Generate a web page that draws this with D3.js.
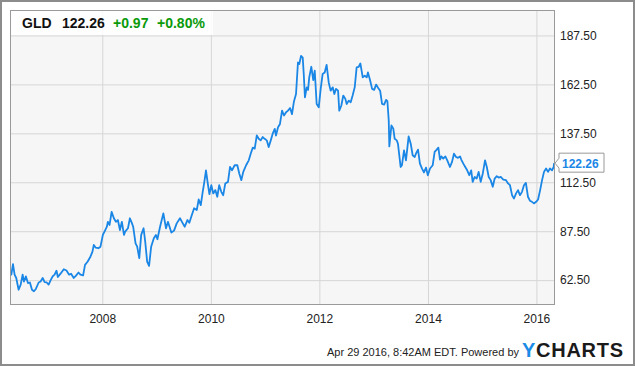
<!DOCTYPE html>
<html>
<head>
<meta charset="utf-8">
<script src="https://cdn.jsdelivr.net/npm/d3@7"></script>
<style>
  body { margin: 0; background: #fff; }
  svg { display: block; font-family: Arial, "Liberation Sans", sans-serif; }
  .grid line { stroke: #d6d6d6; }
  .grid path { display: none; }
  .axis path { display: none; }
  .axis text { fill: #222; font-size: 12px; }
</style>
</head>
<body>
<div id="chart"></div>
<script>
// ---- data ----
const ticker = "GLD";
const lastPrice = 122.26;
const change = "+0.97";
const changePct = "+0.80%";
const stamp = "Apr 29 2016, 8:42AM EDT. Powered by";

const yTicks = [62.5, 87.5, 112.5, 137.5, 162.5, 187.5];
const xTickYears = [2008, 2010, 2012, 2014, 2016];

const dates = [
  "2006-04-21","2006-04-29","2006-05-10","2006-05-21","2006-06-01","2006-06-17","2006-07-01","2006-07-14","2006-07-23",
  "2006-08-05","2006-08-19","2006-09-01","2006-09-15","2006-09-28","2006-10-11","2006-10-30","2006-11-12","2006-11-26",
  "2006-12-09","2006-12-23",
  "2007-01-05","2007-01-18","2007-02-01","2007-02-14","2007-02-27","2007-03-08","2007-03-26","2007-04-17","2007-05-05",
  "2007-05-23","2007-06-05","2007-06-23","2007-07-07","2007-07-25","2007-08-07","2007-08-25","2007-09-07","2007-09-25",
  "2007-10-14","2007-10-27","2007-11-05","2007-11-18","2007-12-06","2007-12-20",
  "2008-01-05","2008-01-21","2008-02-01","2008-02-08","2008-02-19","2008-03-04","2008-03-19","2008-04-02","2008-04-15",
  "2008-04-29","2008-05-12","2008-05-26","2008-06-03","2008-06-22","2008-07-05","2008-07-19","2008-07-27","2008-08-12",
  "2008-08-23","2008-09-06","2008-09-19","2008-10-05","2008-10-16","2008-10-29","2008-11-11","2008-11-25","2008-12-13",
  "2008-12-27",
  "2009-01-06","2009-01-24","2009-02-15","2009-03-05","2009-03-18","2009-04-10","2009-04-28","2009-05-16","2009-06-07",
  "2009-06-26","2009-07-09","2009-07-27","2009-08-09","2009-08-22","2009-09-10","2009-09-28","2009-10-11","2009-10-25",
  "2009-11-07","2009-11-18","2009-11-29","2009-12-11","2009-12-22",
  "2010-01-04","2010-01-17","2010-01-31","2010-02-13","2010-02-26","2010-03-12","2010-03-25","2010-04-08","2010-04-26",
  "2010-05-10","2010-05-23","2010-06-10","2010-06-28","2010-07-11","2010-07-25","2010-08-07","2010-08-26","2010-09-13",
  "2010-09-26","2010-10-10","2010-10-23","2010-11-06","2010-11-19","2010-12-02","2010-12-16","2010-12-29",
  "2011-01-12","2011-01-25","2011-02-08","2011-02-21","2011-03-07","2011-03-15","2011-03-29","2011-04-11","2011-04-25",
  "2011-05-08","2011-05-22","2011-06-04","2011-06-18","2011-07-01","2011-07-14","2011-07-28","2011-08-10","2011-08-19",
  "2011-08-31","2011-09-11","2011-09-18","2011-09-26","2011-10-08","2011-10-17","2011-10-25","2011-11-08","2011-11-21",
  "2011-12-01","2011-12-14","2011-12-28",
  "2012-01-10","2012-01-23","2012-02-06","2012-02-19","2012-03-04","2012-03-17","2012-03-31","2012-04-11","2012-04-22",
  "2012-05-06","2012-05-14","2012-05-28","2012-06-10","2012-06-24","2012-07-03","2012-07-17","2012-07-30","2012-08-12",
  "2012-08-26","2012-09-08","2012-09-22","2012-10-03","2012-10-19","2012-11-01","2012-11-15","2012-11-23","2012-12-07",
  "2012-12-21",
  "2013-01-04","2013-01-17","2013-01-31","2013-02-13","2013-02-26","2013-03-12","2013-03-25","2013-04-03","2013-04-12",
  "2013-04-16","2013-04-30","2013-05-13","2013-05-22","2013-06-05","2013-06-13","2013-07-01","2013-07-10","2013-07-24",
  "2013-08-06","2013-08-24","2013-09-07","2013-09-20","2013-10-04","2013-10-12","2013-10-26","2013-11-08","2013-11-22",
  "2013-12-05","2013-12-19","2013-12-31",
  "2014-01-15","2014-02-02","2014-02-15","2014-03-01","2014-03-12","2014-03-23","2014-04-01","2014-04-14","2014-04-28",
  "2014-05-11","2014-05-29","2014-06-12","2014-06-25","2014-07-09","2014-07-22","2014-08-05","2014-08-13","2014-08-27",
  "2014-09-09","2014-09-22","2014-10-06","2014-10-19","2014-10-29","2014-11-11","2014-11-25","2014-12-08","2014-12-22",
  "2015-01-05","2015-01-20","2015-02-01","2015-02-14","2015-02-27","2015-03-13","2015-03-26","2015-04-09","2015-04-22",
  "2015-05-06","2015-05-23","2015-06-10","2015-06-24","2015-07-07","2015-07-21","2015-08-03","2015-08-17","2015-08-30",
  "2015-09-12","2015-09-26","2015-10-09","2015-10-22","2015-11-05","2015-11-18","2015-12-02","2015-12-15","2015-12-30",
  "2016-01-12","2016-01-26","2016-02-08","2016-02-21","2016-03-06","2016-03-19","2016-04-01","2016-04-15","2016-04-26",
  "2016-04-29"
];

const prices = [
  66.0, 65.3, 70.7, 65.3, 63.6, 57.6, 60.2, 65.3, 61.8,
  64.4, 61.0, 61.3, 57.6, 56.8, 58.0, 61.3, 61.8, 63.6,
  61.5, 61.3,
  60.2, 62.4, 64.4, 65.3, 67.3, 64.1, 65.8, 68.1, 67.4,
  65.3, 65.8, 63.6, 64.7, 66.4, 65.3, 64.9, 70.3, 72.0,
  74.6, 77.1, 80.5, 79.1, 78.8, 79.6,
  85.6, 88.1, 89.8, 92.3, 90.7, 97.4, 94.1, 92.3, 93.2,
  88.1, 92.3, 85.6, 87.3, 89.0, 94.1, 91.5, 89.8, 81.3,
  79.6, 73.7, 85.6, 89.0, 82.2, 72.0, 69.8, 79.6, 83.9,
  85.6,
  83.4, 89.8, 96.6, 89.0, 92.3, 86.8, 87.8, 91.5, 94.1,
  91.5, 89.8, 93.2, 91.8, 94.9, 99.2, 98.3, 103.7, 100.8,
  107.6, 112.7, 118.6, 111.9, 106.4,
  111.0, 106.8, 108.5, 105.1, 111.0, 107.6, 105.9, 111.9, 112.7,
  120.3, 118.6, 121.2, 121.2, 117.0, 113.6, 117.8, 121.2, 123.7,
  127.1, 130.2, 129.7, 136.4, 134.7, 133.9, 135.6, 134.7,
  133.9, 130.5, 133.9, 137.3, 139.8, 136.4, 140.6, 142.3, 149.1,
  146.6, 148.3, 149.1, 150.4, 147.3, 153.8, 157.6, 173.7, 172.9,
  177.1, 176.2, 167.8, 155.9, 161.0, 159.7, 166.1, 171.5, 164.7,
  169.5, 152.5, 150.8,
  160.2, 167.8, 168.6, 172.5, 163.5, 159.3, 161.0, 157.6, 160.2,
  159.3, 149.1, 151.7, 156.8, 155.1, 152.5, 154.2, 153.4, 156.8,
  161.0, 171.2, 171.5, 173.2, 166.1, 166.9, 166.1, 168.6, 164.7,
  160.2,
  159.7, 162.4, 160.7, 159.3, 152.5, 152.2, 154.6, 153.9, 144.1,
  130.8, 141.5, 139.8, 134.7, 133.9, 132.2, 120.3, 121.2, 128.8,
  123.7, 135.9, 132.2, 126.3, 125.4, 127.1, 129.2, 122.0, 119.5,
  117.5, 120.0, 116.1,
  119.5, 121.2, 128.0, 129.2, 130.2, 124.1, 125.7, 124.6, 125.7,
  123.7, 120.3, 122.9, 127.1, 125.4, 125.0, 125.7, 124.1, 122.0,
  120.3, 118.6, 116.1, 118.6, 112.7, 115.2, 114.4, 117.8, 112.7,
  117.0, 123.7, 120.3, 115.2, 113.6, 110.2, 114.4, 115.6, 114.9,
  115.2, 113.9, 113.6, 111.9, 111.0, 105.9, 104.2, 106.8, 108.5,
  105.9, 107.6, 111.0, 112.2, 105.1, 103.1, 102.5, 101.7, 102.5,
  103.7, 108.5, 113.6, 117.8, 119.5, 117.8, 119.5, 118.6, 120.3,
  122.26
];

// ---- layout ----
const width = 635, height = 366;
const plot = { left: 10, top: 10, right: 555, bottom: 305 };

const parse = d3.timeParse("%Y-%m-%d");
const series = dates.map((d, i) => ({ date: parse(d), value: prices[i] }));

const x = d3.scaleTime()
  .domain([parse("2006-04-20"), parse("2016-05-05")])
  .range([plot.left, plot.right]);

const y = d3.scaleLinear()
  .domain([49.8, 200.5])
  .range([plot.bottom, plot.top]);

const svg = d3.select("#chart").append("svg")
  .attr("width", width)
  .attr("height", height);

// outer frame
svg.append("rect")
  .attr("x", 1).attr("y", 1)
  .attr("width", width - 2).attr("height", height - 2)
  .attr("fill", "#fff")
  .attr("stroke", "#8c8c8c")
  .attr("stroke-width", 2);

// plot background
svg.append("rect")
  .attr("x", plot.left).attr("y", plot.top)
  .attr("width", plot.right - plot.left)
  .attr("height", plot.bottom - plot.top)
  .attr("fill", "#f6f6f6");

// grid
const xTicks = xTickYears.map(yr => new Date(yr, 0, 1));

svg.append("g")
  .attr("class", "grid")
  .attr("transform", `translate(0,${plot.bottom})`)
  .call(d3.axisBottom(x).tickValues(xTicks)
    .tickSize(-(plot.bottom - plot.top)).tickFormat(""));

svg.append("g")
  .attr("class", "grid")
  .attr("transform", `translate(${plot.left},0)`)
  .call(d3.axisLeft(y).tickValues(yTicks)
    .tickSize(-(plot.right - plot.left)).tickFormat(""));

// price line
svg.append("clipPath").attr("id", "clip")
  .append("rect")
  .attr("x", plot.left).attr("y", plot.top)
  .attr("width", plot.right - plot.left)
  .attr("height", plot.bottom - plot.top);

const line = d3.line()
  .x(d => x(d.date))
  .y(d => y(d.value));

svg.append("path")
  .datum(series)
  .attr("clip-path", "url(#clip)")
  .attr("fill", "none")
  .attr("stroke", "#1a86e6")
  .attr("stroke-width", 1.8)
  .attr("stroke-linejoin", "round")
  .attr("d", line);

// plot border
svg.append("rect")
  .attr("x", plot.left + 0.5).attr("y", plot.top + 0.5)
  .attr("width", plot.right - plot.left - 1)
  .attr("height", plot.bottom - plot.top - 1)
  .attr("fill", "none")
  .attr("stroke", "#9a9a9a");

// header box
svg.append("rect")
  .attr("x", plot.left + 1).attr("y", plot.top + 1)
  .attr("width", 202).attr("height", 24)
  .attr("fill", "#fff")
  .attr("opacity", 0.85);

const header = svg.append("text")
  .attr("y", 28)
  .style("font-size", "14px")
  .style("font-weight", "bold");
header.append("tspan").attr("x", 22).attr("fill", "#111").text(ticker);
header.append("tspan").attr("x", 62).attr("fill", "#111").text(d3.format(".2f")(lastPrice));
header.append("tspan").attr("x", 113).attr("fill", "#0a9a0a").text(change);
header.append("tspan").attr("x", 157).attr("fill", "#0a9a0a").text(changePct);

// y labels
svg.append("g")
  .attr("class", "axis")
  .attr("transform", `translate(${plot.right},0)`)
  .call(d3.axisRight(y).tickValues(yTicks).tickSize(0).tickPadding(5)
    .tickFormat(d3.format(".2f")))
  .selectAll("text").attr("fill", "#333");

// x labels
svg.append("g")
  .attr("class", "axis")
  .attr("transform", `translate(0,${plot.bottom})`)
  .call(d3.axisBottom(x).tickValues(xTicks).tickSize(0).tickPadding(9)
    .tickFormat(d3.timeFormat("%Y")));

// last price tag
const ty = y(lastPrice);
const tag = svg.append("g").attr("transform", `translate(${plot.right},${ty})`);
tag.append("path")
  .attr("d", "M0,0 L4,-5 L4,-10 L49,-10 L49,9 L4,9 L4,5 Z")
  .attr("fill", "#fff")
  .attr("stroke", "#999");
tag.append("text")
  .attr("x", 7).attr("y", 4.5)
  .attr("fill", "#1a86e6")
  .style("font-size", "12px")
  .style("font-weight", "bold")
  .text(d3.format(".2f")(lastPrice));

// footer
svg.append("text")
  .attr("x", 519).attr("y", 356)
  .attr("text-anchor", "end")
  .attr("fill", "#222")
  .style("font-size", "11px")
  .text(stamp);

const logo = svg.append("text")
  .attr("x", 522).attr("y", 357)
  .attr("textLength", 101)
  .style("font-size", "20px")
  .style("font-weight", "bold");
logo.append("tspan").attr("fill", "#1a8be6").text("Y");
logo.append("tspan").attr("fill", "#1a1a1a").text("CHARTS");
</script>
</body>
</html>
